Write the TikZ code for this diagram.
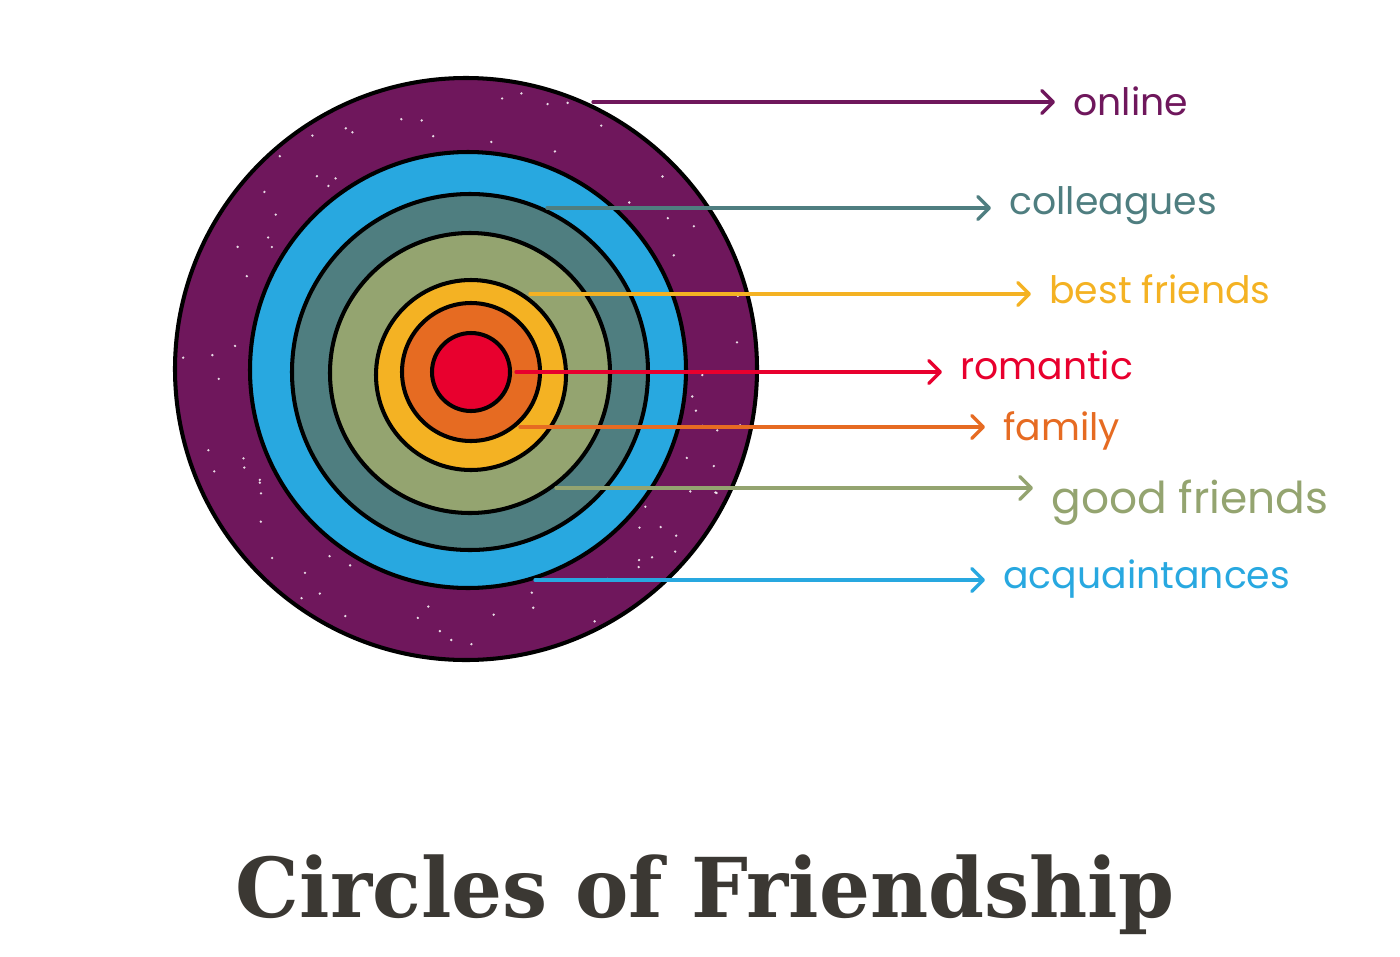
\documentclass[tikz,border=0pt]{standalone}
\usepackage{fontspec}
\newfontfamily\handfont{Poppins}
\newfontfamily\titlefont{DejaVu Serif}
\usetikzlibrary{arrows.meta, calc}
\definecolor{onlinepurple}{HTML}{6F175C}
\definecolor{acqblue}{HTML}{28A8E0}
\definecolor{colteal}{HTML}{4F7E80}
\definecolor{goodolive}{HTML}{94A470}
\definecolor{bestyellow}{HTML}{F4B223}
\definecolor{famorange}{HTML}{E66B22}
\definecolor{romred}{HTML}{E8002E}
\definecolor{titlegrey}{HTML}{3B3833}
\tikzset{
  ring/.style={draw=black, line width=2.3pt},
  pointer/.style={line width=1.9pt, line cap=round, shorten >=0.36cm,
                  -{Straight Barb[length=6.5pt,width=13pt,line cap=round,line join=round]}},
  hand/.style={font=\handfont\fontsize{21.5}{25}\selectfont, anchor=base west, inner sep=0pt},
  speck/.style={fill=white, opacity=0.85},
}

\begin{document}
\begin{tikzpicture}[x=0.02cm, y=-0.02cm]
  \useasboundingbox (0,0) rectangle (1400,957);

  % rings, outside in
  \filldraw[ring, fill=onlinepurple] (466,369) circle[radius=291];
  \pgfmathsetseed{7}
  \foreach \i in {1,...,80}{
    \pgfmathsetmacro\ang{360*rnd}
    \pgfmathsetmacro\rad{225+60*rnd}
    \fill[speck] (466,369) ++(\ang:\rad) circle[radius=1.3];
  }
  \filldraw[ring, fill=acqblue]    (468,370) circle[radius=218];
  \filldraw[ring, fill=colteal]    (470,372) circle[radius=178];
  \filldraw[ring, fill=goodolive]  (470,373) circle[radius=140];
  \filldraw[ring, fill=bestyellow] (471,375) circle[radius=95];
  \filldraw[ring, fill=famorange]  (471,372) circle[radius=69];
  \filldraw[ring, fill=romred]     (471,372) circle[radius=39];

  % labels
  \node[hand, text=onlinepurple] (online) at (1073,115) {online};
  \node[hand, text=colteal]      (colleagues) at (1009,214) {colleagues};
  \node[hand, text=bestyellow]   (best) at (1049,303) {best friends};
  \node[hand, text=romred]       (romantic) at (960,379) {romantic};
  \node[hand, text=famorange]    (family) at (1003,440) {family};
  \node[hand, text=goodolive, font=\handfont\fontsize{25}{29}\selectfont]
                                 (good) at (1051,513) {good friends};
  \node[hand, text=acqblue]      (acq) at (1003,588) {acquaintances};

  % arrow starts
  \coordinate (s-online) at (593,102);
  \coordinate (s-colleagues) at (547,208);
  \coordinate (s-best) at (530,294);
  \coordinate (s-romantic) at (516,372);
  \coordinate (s-family) at (520,427);
  \coordinate (s-good) at (556,488);
  \coordinate (s-acq) at (535,580);

  \draw[pointer, onlinepurple] (s-online) -- (s-online -| online.west);
  \draw[pointer, colteal]      (s-colleagues) -- (s-colleagues -| colleagues.west);
  \draw[pointer, bestyellow]   (s-best) -- (s-best -| best.west);
  \draw[pointer, romred]       (s-romantic) -- (s-romantic -| romantic.west);
  \draw[pointer, famorange]    (s-family) -- (s-family -| family.west);
  \draw[pointer, goodolive]    (s-good) -- (s-good -| good.west);
  \draw[pointer, acqblue]      (s-acq) -- (s-acq -| acq.west);

  % title
  \node[anchor=base, text=titlegrey, inner sep=0pt] (title) at (705,917)
    {\scalebox{0.97}[1]{\titlefont\bfseries\fontsize{47}{51}\selectfont Circles of Friendship}};
\end{tikzpicture}
\end{document}
